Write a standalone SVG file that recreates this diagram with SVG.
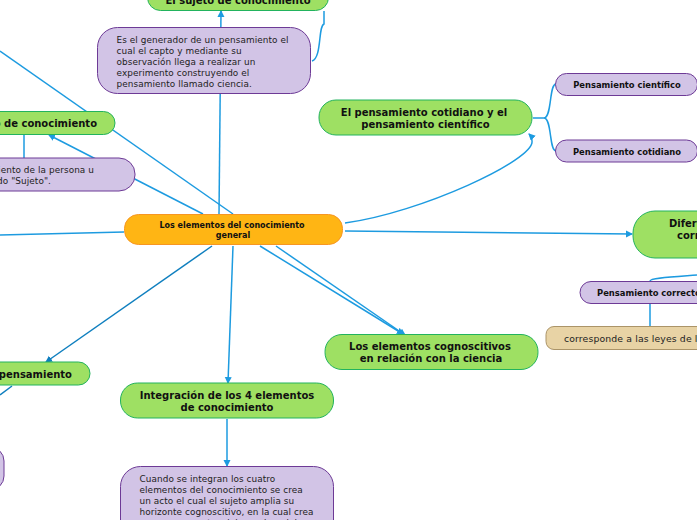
<svg xmlns="http://www.w3.org/2000/svg" width="697" height="520" viewBox="0 0 697 520">
<defs>
<marker id="arrow" markerUnits="userSpaceOnUse" markerWidth="8" markerHeight="8" refX="6" refY="3.500" orient="auto"><path d="M0,0 L7,3.500 L0,7 Z" fill="#1d9be0"/></marker>
<marker id="arrow-dark" markerUnits="userSpaceOnUse" markerWidth="8" markerHeight="8" refX="6" refY="3.500" orient="auto"><path d="M0,0 L7,3.500 L0,7 Z" fill="#0f7fbf"/></marker>
</defs>
<style>
text{font-family:"DejaVu Sans",Verdana,sans-serif;fill:#111}
.g{fill:#9ee063;stroke:#22b35e;stroke-width:1}
.p{fill:#d2c4e6;stroke:#6d3a96;stroke-width:1}
.o{fill:#ffb514;stroke:#f79622;stroke-width:1}
.t{fill:#e8d3a5;stroke:#ab9468;stroke-width:1}
.b{font-size:10px;font-weight:bold;text-anchor:middle}
.s{font-size:8.400px;font-weight:bold;text-anchor:middle}
.r{font-size:8px;font-weight:bold;text-anchor:middle}
.c{font-size:8.900px;letter-spacing:.08px;fill:#222}
.l{fill:none;stroke:#1d9be0;stroke-width:1.500}
.a{marker-end:url(#arrow)}
</style>
<rect width="697" height="520" fill="#fff"/>
<g id="connectors">
<path class="l a" d="M219,214 L221,11"/>
<path class="l" d="M312,61 C322,58 318,26 324,24 L324,11"/>
<path class="l" d="M233,214 L0,51"/>
<path class="l a" d="M203,214 L49,135"/>
<path class="l" d="M24,134 L24,158"/>
<path class="l" d="M124,232 L0,235"/>
<path d="M212,246 L46,362" fill="none" stroke="#0f7fbf" stroke-width="1.500" marker-end="url(#arrow-dark)"/>
<path d="M12,386 L0,395" fill="none" stroke="#0f7fbf" stroke-width="1.500"/>
<path class="l a" d="M233,246 L228,383"/>
<path class="l a" d="M227,419 L227,466"/>
<path class="l a" d="M260,246 L403,334"/>
<path class="l a" d="M276,246 L405,335"/>
<path class="l a" d="M345,223 C420,213 535,160 532,141 Q532,137 529,134"/>
<path class="l a" d="M345,231 L632,234"/>
<path class="l" d="M533,118 L544,118 C552,118 549,84 556,84"/>
<path class="l" d="M544,118 C552,118 549,151 556,151"/>
<path class="l" d="M650,281 C650,278 670,277 697,275"/>
<path class="l" d="M650,303 L650,326"/>
</g>
<g id="node-sujeto"><rect class="g" x="147.500" y="-24" width="181" height="34.500" rx="13"/><text class="b" x="238" y="4">El sujeto de conocimiento</text></g>
<g id="node-sujeto-desc"><rect class="p" x="97.500" y="27.500" width="213" height="66" rx="20"/>
<text class="c"><tspan x="116.500" y="42.500">Es el generador de un pensamiento el</tspan><tspan x="116.500" y="53.500">cual el capto y mediante su</tspan><tspan x="116.500" y="64.500">observación llega a realizar un</tspan><tspan x="116.500" y="75.500">experimento construyendo el</tspan><tspan x="116.500" y="86.500">pensamiento llamado ciencia.</tspan></text></g>
<g id="node-objeto"><rect class="g" x="-120" y="111.500" width="235" height="23" rx="11.500"/><text class="b" x="97" y="127" style="text-anchor:end">El objeto de conocimiento</text></g>
<g id="node-objeto-desc"><rect class="p" x="-120" y="158" width="255" height="33" rx="16"/>
<text class="c" style="text-anchor:end"><tspan x="94" y="173">Es el pensamiento de la persona u</tspan><tspan x="51" y="184">objeto llamado "Sujeto".</tspan></text></g>
<g id="node-root"><rect class="o" x="124.500" y="214.500" width="218" height="30" rx="14"/>
<text class="r"><tspan x="232" y="228">Los elementos del conocimiento</tspan><tspan x="233" y="238">general</tspan></text></g>
<g id="node-pensamiento"><rect class="g" x="-120" y="362" width="210" height="23" rx="11.500"/><text class="b" x="72" y="378" style="text-anchor:end">pensamiento</text></g>
<g id="node-left-desc"><rect class="p" x="-120" y="447" width="124" height="43" rx="14"/></g>
<g id="node-integracion"><rect class="g" x="120.500" y="383" width="213" height="35" rx="17"/>
<text class="b"><tspan x="227" y="399">Integración de los 4 elementos</tspan><tspan x="227" y="411">de conocimiento</tspan></text></g>
<g id="node-integracion-desc"><rect class="p" x="120.500" y="466.500" width="213" height="90" rx="20"/>
<text class="c"><tspan x="139.500" y="481.500">Cuando se integran los cuatro</tspan><tspan x="139.500" y="492.500">elementos del conocimiento se crea</tspan><tspan x="139.500" y="503.500">un acto el cual el sujeto amplia su</tspan><tspan x="139.500" y="514.500">horizonte cognoscitivo, en la cual crea</tspan><tspan x="139.500" y="525.500">nuevos conceptos del mundo y del ser</tspan></text></g>
<g id="node-cognoscitivos"><rect class="g" x="325" y="334.500" width="213" height="35" rx="17"/>
<text class="b"><tspan x="430" y="350">Los elementos cognoscitivos</tspan><tspan x="431" y="362">en relación con la ciencia</tspan></text></g>
<g id="node-cotidiano"><rect class="g" x="319" y="100" width="213" height="35" rx="17"/>
<text class="b"><tspan x="424" y="116">El pensamiento cotidiano y el</tspan><tspan x="425.500" y="128">pensamiento científico</tspan></text></g>
<g id="node-cientifico"><rect class="p" x="555.500" y="73.500" width="142" height="22" rx="11"/><text class="s" x="627" y="88">Pensamiento científico</text></g>
<g id="node-pcotidiano"><rect class="p" x="555.500" y="140" width="142" height="22" rx="11"/><text class="s" x="627" y="154.500">Pensamiento cotidiano</text></g>
<g id="node-diferencia"><rect class="g" x="633" y="211" width="180" height="47" rx="22"/>
<text class="b" style="text-anchor:start"><tspan x="669" y="227">Diferencia entre</tspan><tspan x="677" y="239">correcto</tspan></text></g>
<g id="node-correcto"><rect class="p" x="580" y="281.500" width="180" height="22" rx="11"/><text class="s" x="597" y="296" style="text-anchor:start">Pensamiento correcto</text></g>
<g id="node-leyes"><rect class="t" x="546" y="326.500" width="240" height="23" rx="8"/><text class="c" x="564" y="342" style="font-size:9.300px;letter-spacing:.13px">corresponde a las leyes de la lógica</text></g>
</svg>
